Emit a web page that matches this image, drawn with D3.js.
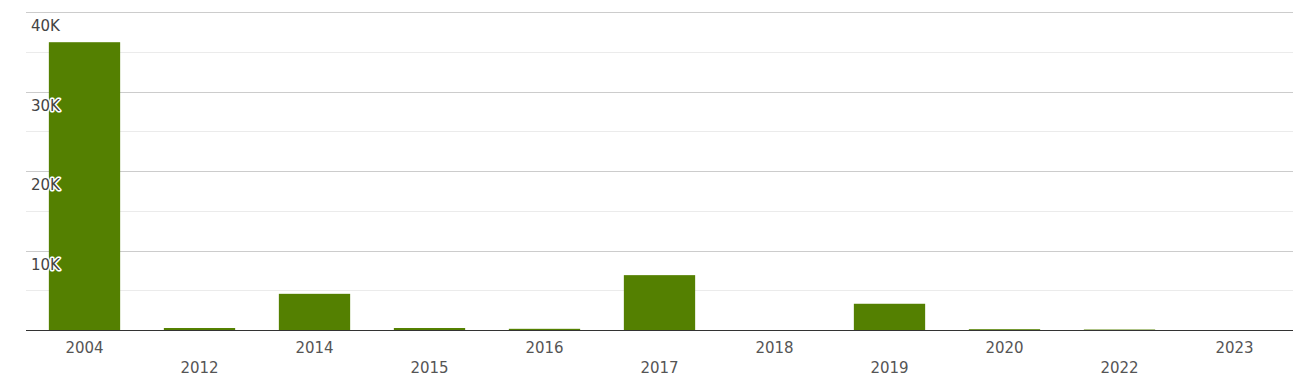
<!DOCTYPE html>
<html>
<head>
<meta charset="utf-8">
<script src="https://cdn.jsdelivr.net/npm/d3@7"></script>
<style>
  body { margin: 0; background: #fff; }
  text { font-family: "DejaVu Sans", sans-serif; }
</style>
</head>
<body>
<div id="chart"></div>
<script>
// chart data
var years = ["2004", "2012", "2014", "2015", "2016", "2017", "2018", "2019", "2020", "2022", "2023"];
var counts = [36200, 250, 4550, 250, 150, 6900, 0, 3300, 100, 60, 0];
var yTicks = [10000, 20000, 30000, 40000];
var yTickLabels = ["10K", "20K", "30K", "40K"];

var width = 1293;
var height = 384;
var plotLeft = 26;
var plotRight = 1293;
var plotTop = 12;
var plotBottom = 330;

var svg = d3.select("#chart")
  .append("svg")
  .attr("width", width)
  .attr("height", height);

var xScale = d3.scaleBand()
  .domain(years)
  .range([plotLeft + 1, plotRight - 1])
  .paddingInner(0.38)
  .paddingOuter(0.19);

var yScale = d3.scaleLinear()
  .domain([0, 40000])
  .range([plotBottom, plotTop]);

// minor grid lines (every 5K)
var minor = d3.range(5000, 40000, 10000);
svg.append("g")
  .selectAll("line")
  .data(minor)
  .enter()
  .append("line")
  .attr("x1", plotLeft)
  .attr("x2", plotRight)
  .attr("y1", function(d) { return Math.round(yScale(d)) + 0.5; })
  .attr("y2", function(d) { return Math.round(yScale(d)) + 0.5; })
  .attr("stroke", "#ebebeb");

// major grid lines
svg.append("g")
  .selectAll("line")
  .data(yTicks)
  .enter()
  .append("line")
  .attr("x1", plotLeft)
  .attr("x2", plotRight)
  .attr("y1", function(d) { return Math.round(yScale(d)) + 0.5; })
  .attr("y2", function(d) { return Math.round(yScale(d)) + 0.5; })
  .attr("stroke", "#cccccc");

// bars
svg.append("g")
  .selectAll("rect")
  .data(counts)
  .enter()
  .append("rect")
  .attr("x", function(d, i) { return xScale(years[i]); })
  .attr("y", function(d) { return yScale(d); })
  .attr("width", xScale.bandwidth())
  .attr("height", function(d) { return plotBottom - yScale(d); })
  .attr("fill", "#548001");

// baseline
svg.append("line")
  .attr("x1", plotLeft)
  .attr("x2", plotRight)
  .attr("y1", plotBottom + 0.5)
  .attr("y2", plotBottom + 0.5)
  .attr("stroke", "#333");

// y labels, sitting inside the plot with a white halo
svg.append("g")
  .selectAll("text")
  .data(yTicks)
  .enter()
  .append("text")
  .attr("x", 31)
  .attr("y", function(d) { return yScale(d) + 19; })
  .attr("font-size", "15px")
  .attr("fill", "#444")
  .attr("stroke", "#fff")
  .attr("stroke-width", 3)
  .attr("stroke-linejoin", "round")
  .attr("paint-order", "stroke")
  .text(function(d, i) { return yTickLabels[i]; });

// x labels, staggered on two rows
svg.append("g")
  .selectAll("text")
  .data(years)
  .enter()
  .append("text")
  .attr("x", function(d) { return xScale(d) + xScale.bandwidth() / 2; })
  .attr("y", function(d, i) { return i % 2 === 0 ? 353 : 373; })
  .attr("text-anchor", "middle")
  .attr("font-size", "15px")
  .attr("fill", "#555")
  .text(function(d) { return d; });
</script>
</body>
</html>
